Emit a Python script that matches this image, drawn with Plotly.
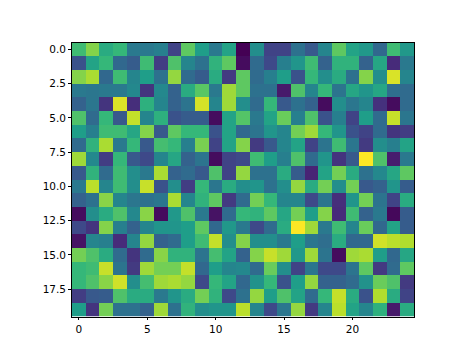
import plotly.graph_objects as go

row_00 = [.62,.75,.55,.6,.38,.38,.4,.2,.68,.5,.38,.52,.0,.45,.2,.2,.35,.27,.42,.68,.52,.48,.32,.62,.48]
row_01 = [.25,.52,.6,.32,.28,.62,.18,.65,.42,.35,.58,.68,.03,.33,.22,.4,.47,.62,.3,.58,.58,.3,.53,.12,.38]
row_02 = [.75,.82,.32,.62,.42,.5,.35,.78,.33,.28,.55,.17,.68,.33,.4,.5,.25,.6,.45,.55,.35,.75,.45,.92,.42]
row_03 = [.38,.37,.38,.38,.43,.15,.43,.3,.55,.67,.38,.8,.68,.35,.35,.07,.65,.42,.6,.36,.53,.47,.53,.34,.33]
row_04 = [.3,.37,.15,.93,.13,.57,.42,.3,.36,.91,.42,.8,.45,.33,.6,.27,.35,.3,.03,.45,.37,.42,.14,.03,.33]
row_05 = [.65,.33,.6,.27,.87,.42,.57,.25,.28,.28,.03,.52,.66,.38,.52,.7,.4,.65,.25,.4,.2,.5,.33,.88,.37]
row_06 = [.5,.4,.62,.62,.53,.75,.27,.68,.6,.6,.25,.52,.32,.36,.47,.42,.72,.8,.6,.47,.25,.2,.33,.15,.18]
row_07 = [.33,.58,.82,.38,.6,.27,.63,.6,.4,.73,.2,.52,.75,.17,.27,.42,.52,.2,.36,.62,.37,.17,.45,.4,.52]
row_08 = [.8,.43,.18,.6,.27,.22,.42,.53,.3,.36,.03,.2,.22,.62,.5,.4,.65,.33,.47,.15,.27,1.0,.65,.08,.38]
row_09 = [.27,.58,.33,.62,.45,.38,.82,.3,.33,.27,.65,.2,.78,.35,.35,.55,.28,.1,.52,.72,.55,.35,.43,.53,.68]
row_10 = [.38,.85,.42,.62,.45,.88,.25,.45,.18,.6,.37,.55,.45,.47,.35,.45,.78,.55,.72,.45,.72,.27,.3,.47,.28]
row_11 = [.3,.35,.76,.42,.37,.35,.37,.82,.42,.58,.68,.17,.33,.72,.6,.42,.42,.22,.37,.13,.47,.72,.36,.2,.55]
row_12 = [.03,.45,.55,.65,.43,.76,.03,.48,.65,.38,.05,.33,.6,.58,.68,.53,.72,.5,.75,.12,.62,.3,.38,.02,.28]
row_13 = [.22,.15,.75,.4,.3,.42,.47,.47,.5,.68,.32,.48,.38,.22,.33,.55,1.0,.8,.38,.62,.42,.7,.32,.52,.28]
row_14 = [.05,.42,.4,.12,.42,.78,.3,.33,.5,.62,.87,.45,.75,.45,.45,.38,.5,.37,.34,.55,.32,.32,.9,.85,.83]
row_15 = [.72,.65,.55,.33,.15,.33,.76,.58,.58,.36,.63,.52,.3,.75,.88,.8,.48,.8,.36,.03,.8,.82,.5,.32,.53]
row_16 = [.6,.62,.88,.36,.17,.8,.72,.72,.87,.32,.5,.42,.43,.33,.7,.45,.2,.37,.22,.22,.36,.68,.17,.33,.68]
row_17 = [.6,.65,.76,.9,.45,.63,.8,.82,.78,.22,.6,.52,.32,.46,.6,.25,.5,.78,.3,.3,.33,.46,.7,.65,.17]
row_18 = [.18,.27,.28,.65,.55,.55,.38,.47,.55,.72,.58,.22,.35,.78,.5,.65,.52,.33,.6,.87,.55,.25,.83,.55,.2]
row_19 = [.5,.15,.72,.35,.35,.3,.8,.35,.58,.45,.47,.47,.85,.42,.22,.37,.78,.17,.42,.85,.52,.42,.57,.07,.55]

z = [row_00, row_01, row_02, row_03, row_04, row_05, row_06, row_07, row_08, row_09,
     row_10, row_11, row_12, row_13, row_14, row_15, row_16, row_17, row_18, row_19]
x_ticks = [0, 5, 10, 15, 20]
y_ticks = [0, 2.5, 5, 7.5, 10, 12.5, 15, 17.5]

# Viridis colours, with stops calibrated to how the cell values were read
colors = [[0, "#440154"], [0.11, "#482878"], [0.22, "#3e4989"], [0.32, "#31688e"],
          [0.41, "#26828e"], [0.50, "#1f9e89"], [0.60, "#35b779"], [0.71, "#6ece58"],
          [0.84, "#b5de2b"], [1, "#fde725"]]

W, H = 474, 355
L, R, T, B = 72, 414, 42.5, 316.5

fig = go.Figure(go.Heatmap(z=z, colorscale=colors, zmin=0, zmax=1, showscale=False))
axis = dict(showgrid=False, zeroline=False, showline=True, linecolor="black", linewidth=0.75,
            mirror=True, ticks="outside", ticklen=3, tickwidth=0.75, tickcolor="black",
            tickfont=dict(family="DejaVu Sans", size=10.5, color="black"))
fig.update_xaxes(range=[-0.5, 24.5], tickvals=x_ticks, domain=[L / W, R / W], **axis)
fig.update_yaxes(range=[19.5, -0.5], tickvals=y_ticks, tickformat=".1f",
                 domain=[1 - B / H, 1 - T / H], **axis)
fig.update_layout(width=W, height=H, margin=dict(l=0, r=0, t=0, b=0),
                  paper_bgcolor="white", plot_bgcolor="white")
fig.write_html("out.html", config=dict(displayModeBar=False),
               post_script="document.body.style.margin='0';window.dispatchEvent(new Event('resize'));")
